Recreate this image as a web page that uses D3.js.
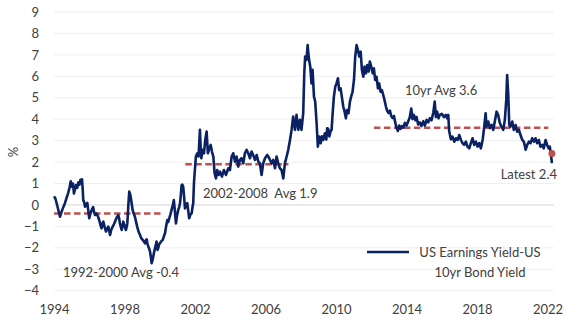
<!DOCTYPE html>
<html><head><meta charset="utf-8">
<script src="https://cdn.jsdelivr.net/npm/d3@7"></script>
<style>html,body{margin:0;padding:0;background:#fff;}svg{display:block;font-family:Lato,"Open Sans",sans-serif;}</style>
</head><body><div id="chart"></div>
<script>
// Series: US Earnings Yield - US 10yr Bond Yield (%), by decimal year
const years = [1994.00,1994.08,1994.15,1994.25,1994.34,1994.42,1994.50,1994.62,1994.70,1994.80,1994.88,1994.95,1995.02,1995.08,1995.13,1995.20,1995.25,1995.32,1995.38,1995.45,1995.50,1995.55,1995.59,1995.63,1995.66,1995.72,1995.76,1995.83,1995.89,1995.95,1996.00,1996.07,1996.14,1996.22,1996.28,1996.33,1996.42,1996.50,1996.58,1996.64,1996.70,1996.76,1996.80,1996.88,1996.95,1997.02,1997.08,1997.13,1997.18,1997.25,1997.33,1997.40,1997.46,1997.55,1997.65,1997.70,1997.74,1997.80,1997.84,1997.90,1997.93,1998.00,1998.08,1998.13,1998.16,1998.22,1998.27,1998.32,1998.35,1998.42,1998.46,1998.52,1998.59,1998.66,1998.72,1998.80,1998.88,1998.95,1999.03,1999.10,1999.16,1999.22,1999.26,1999.30,1999.35,1999.40,1999.45,1999.50,1999.54,1999.58,1999.63,1999.68,1999.73,1999.78,1999.82,1999.87,1999.92,1999.96,2000.01,2000.08,2000.17,2000.24,2000.30,2000.36,2000.43,2000.48,2000.54,2000.60,2000.67,2000.74,2000.80,2000.86,2000.92,2000.98,2001.05,2001.10,2001.15,2001.20,2001.24,2001.28,2001.33,2001.38,2001.43,2001.50,2001.56,2001.62,2001.67,2001.74,2001.81,2001.86,2001.90,2001.94,2002.00,2002.05,2002.13,2002.20,2002.28,2002.32,2002.36,2002.43,2002.51,2002.58,2002.66,2002.73,2002.81,2002.89,2002.96,2003.04,2003.11,2003.19,2003.26,2003.34,2003.42,2003.53,2003.64,2003.76,2003.89,2003.98,2004.08,2004.17,2004.27,2004.36,2004.45,2004.55,2004.64,2004.74,2004.83,2004.93,2005.02,2005.12,2005.21,2005.30,2005.40,2005.50,2005.59,2005.68,2005.78,2005.87,2005.97,2006.10,2006.21,2006.35,2006.44,2006.54,2006.63,2006.72,2006.82,2006.91,2007.01,2007.10,2007.20,2007.29,2007.39,2007.48,2007.57,2007.67,2007.76,2007.86,2007.95,2008.04,2008.14,2008.20,2008.25,2008.33,2008.39,2008.46,2008.54,2008.61,2008.67,2008.75,2008.82,2008.90,2008.97,2009.05,2009.13,2009.20,2009.28,2009.37,2009.45,2009.50,2009.56,2009.62,2009.70,2009.75,2009.81,2009.88,2009.96,2010.03,2010.11,2010.18,2010.26,2010.33,2010.41,2010.49,2010.56,2010.63,2010.71,2010.79,2010.86,2010.94,2011.02,2011.09,2011.17,2011.24,2011.32,2011.40,2011.47,2011.55,2011.62,2011.70,2011.77,2011.85,2011.92,2012.00,2012.08,2012.15,2012.22,2012.30,2012.38,2012.45,2012.53,2012.60,2012.68,2012.75,2012.83,2012.90,2012.98,2013.06,2013.13,2013.21,2013.29,2013.36,2013.44,2013.51,2013.59,2013.66,2013.74,2013.81,2013.91,2014.00,2014.10,2014.19,2014.27,2014.34,2014.42,2014.50,2014.57,2014.66,2014.76,2014.85,2014.95,2015.04,2015.14,2015.23,2015.33,2015.42,2015.52,2015.60,2015.67,2015.74,2015.82,2015.89,2016.00,2016.12,2016.23,2016.31,2016.37,2016.42,2016.52,2016.61,2016.71,2016.80,2016.90,2016.99,2017.09,2017.18,2017.27,2017.37,2017.46,2017.56,2017.65,2017.75,2017.84,2017.94,2018.03,2018.13,2018.22,2018.32,2018.41,2018.49,2018.54,2018.64,2018.73,2018.83,2018.92,2019.01,2019.11,2019.20,2019.30,2019.39,2019.49,2019.58,2019.66,2019.71,2019.77,2019.83,2019.90,2020.00,2020.09,2020.19,2020.28,2020.38,2020.47,2020.57,2020.66,2020.76,2020.85,2020.94,2021.04,2021.13,2021.23,2021.32,2021.41,2021.51,2021.60,2021.70,2021.79,2021.89,2021.98,2022.06,2022.13,2022.19,2022.25];
const spread = [0.40,0.30,0.08,-0.25,-0.55,-0.35,-0.16,0.08,0.30,0.54,0.80,1.10,0.85,1.00,0.54,0.75,0.93,0.80,1.05,0.95,1.17,1.05,1.20,0.70,0.23,0.10,-0.08,0.00,0.10,-0.30,-0.62,-0.40,-0.23,-0.10,-0.35,-0.47,-0.40,-0.55,-0.75,-0.95,-1.09,-0.85,-0.78,-1.05,-1.24,-1.10,-1.01,-1.20,-1.40,-1.15,-1.01,-0.90,-0.78,-0.60,-0.47,-0.65,-0.86,-1.05,-1.17,-0.95,-0.78,-0.95,-1.17,-1.00,-0.86,0.00,0.62,0.50,0.39,0.00,-0.23,-0.40,-0.55,-0.80,-1.01,-1.25,-1.40,-1.55,-1.63,-1.70,-1.79,-1.65,-1.60,-1.80,-1.94,-2.05,-2.18,-2.45,-2.72,-2.60,-2.41,-2.20,-2.02,-1.85,-1.71,-2.10,-2.00,-1.85,-1.79,-1.70,-1.63,-1.45,-1.32,-1.00,-0.70,-0.80,-0.62,-0.45,-0.23,0.00,0.23,-0.30,-0.86,-0.50,-0.23,-0.10,0.08,0.50,0.93,0.95,0.85,0.40,-0.16,0.00,0.08,-0.30,-0.62,-0.45,-0.39,-0.10,0.08,1.02,1.70,2.26,2.41,2.26,3.50,2.70,2.18,2.57,2.41,3.03,3.42,2.41,2.64,2.80,2.49,2.26,1.48,1.24,1.63,1.40,1.55,1.32,1.63,1.40,1.71,1.63,2.26,2.41,2.02,2.26,1.79,2.10,2.18,1.94,2.41,2.57,2.41,2.18,2.49,2.33,2.10,2.33,2.02,1.94,1.40,1.94,2.18,2.33,2.18,1.94,2.10,1.71,2.26,1.94,1.71,1.63,1.24,1.94,2.26,2.57,3.03,3.50,4.12,3.50,4.20,3.50,3.97,3.50,4.28,6.14,6.92,6.77,7.46,6.84,6.45,5.67,6.30,5.05,4.82,3.81,2.72,3.19,2.88,3.20,3.03,3.34,3.05,3.58,3.55,3.20,3.45,3.50,4.28,5.05,5.52,5.67,5.91,5.36,5.44,5.05,4.59,4.35,4.04,4.43,4.28,4.82,5.05,5.28,5.83,6.92,7.46,7.23,6.92,7.15,6.30,5.98,6.45,6.14,6.53,6.22,6.69,6.45,6.14,6.37,5.83,5.98,5.44,5.67,5.28,5.36,5.13,4.90,4.60,4.40,4.29,4.40,4.15,4.06,4.15,3.85,3.59,3.45,3.70,3.55,3.68,3.60,3.83,3.70,3.90,4.10,4.50,4.00,4.20,3.95,4.10,3.75,3.85,3.68,3.90,3.70,3.97,3.85,4.05,3.95,4.30,4.82,4.10,4.35,4.04,4.20,4.25,4.10,4.20,4.04,4.20,3.45,3.06,3.19,2.95,3.11,3.03,3.26,3.03,2.88,2.80,2.95,2.72,2.64,2.88,3.11,2.80,2.95,2.72,2.88,2.64,3.03,3.65,4.28,3.65,3.89,3.58,3.73,3.50,3.89,4.35,4.20,3.81,3.65,3.50,3.97,4.90,6.06,5.21,3.73,3.65,3.89,3.50,3.73,3.42,3.50,3.26,3.03,2.95,2.57,2.80,2.95,2.88,3.11,2.95,3.11,2.88,3.03,2.72,2.80,2.64,3.03,2.80,2.64,2.72,2.40,1.95];

// Period averages
const avgLabels = ["1992-2000 Avg -0.4", "2002-2008  Avg 1.9", "10yr Avg 3.6"];
const avgStart  = [1994.0, 2001.45, 2012.15];
const avgEnd    = [2000.2, 2007.3, 2022.05];
const avgValue  = [-0.4, 1.9, 3.6];

// Latest point
const latestYear = 2022.25, latestValue = 2.4, latestLabel = "Latest 2.4";

const yTicks = [9,8,7,6,5,4,3,2,1,0,-1,-2,-3,-4];
const xTicks = [1994,1998,2002,2006,2010,2014,2018,2022];
const seriesName = ["US Earnings Yield-US", "10yr Bond Yield"];

const W = 588, H = 333;
const svg = d3.select("#chart").append("svg").attr("width", W).attr("height", H);

const x = d3.scaleLinear().domain([1994, 2022]).range([54, 547.5]);
const y = d3.scaleLinear().domain([-4, 9]).range([290.7, 12]);
const gridRight = x(2022.37);
const txt = "#404040";

// gridlines
svg.append("g").selectAll("line").data(yTicks).join("line")
  .attr("x1", x(1994)).attr("x2", gridRight)
  .attr("y1", d => y(d)).attr("y2", d => y(d))
  .attr("stroke", d => d === 0 ? "#d4d4d4" : "#efefef").attr("stroke-width", 1);

// y axis labels
const yAxis = d3.axisLeft(y).tickValues(yTicks).tickSize(0).tickPadding(0).tickFormat(d3.format("d"));
svg.append("g").attr("transform", "translate(39,0)").call(yAxis)
  .call(g => g.select(".domain").remove())
  .selectAll("text").attr("fill", txt).attr("font-size", 13).attr("font-family", "Lato, sans-serif");

// x axis labels
const xAxis = d3.axisBottom(x).tickValues(xTicks).tickSize(0).tickPadding(0).tickFormat(d3.format("d"));
svg.append("g").attr("transform", "translate(0,305)").call(xAxis)
  .call(g => g.select(".domain").remove())
  .selectAll("text").attr("fill", txt).attr("font-size", 13).attr("font-family", "Lato, sans-serif");

// % title
svg.append("text").attr("transform", "translate(18,152) rotate(-90)")
  .attr("text-anchor", "middle").attr("fill", txt).attr("font-size", 13).text("%");

// average dashed lines
svg.append("g").selectAll("line").data(avgValue).join("line")
  .attr("x1", (d,i) => x(avgStart[i])).attr("x2", (d,i) => x(avgEnd[i]))
  .attr("y1", d => y(d)).attr("y2", d => y(d))
  .attr("stroke", "#c0504d").attr("stroke-width", 2.5).attr("stroke-dasharray", "6.5,3.5");

// series line
const pts = years.map((yr, i) => [yr, spread[i]]);
svg.append("path").datum(pts)
  .attr("fill", "none").attr("stroke", "#0a2163").attr("stroke-width", 2.6).attr("stroke-linejoin", "round")
  .attr("d", d3.line().x(d => x(d[0])).y(d => y(d[1])));

// latest dot
svg.append("circle").attr("cx", x(latestYear)).attr("cy", y(latestValue)).attr("r", 3.5).attr("fill", "#c0504d");

// annotations
const ann = [
  {t: avgLabels[0], x: 63, y: 272, a: "start"},
  {t: avgLabels[1], x: 203, y: 193, a: "start"},
  {t: avgLabels[2], x: 405, y: 90, a: "start"},
  {t: latestLabel, x: 557, y: 174, a: "end"}
];
svg.append("g").selectAll("text").data(ann).join("text")
  .attr("x", d => d.x).attr("y", d => d.y).attr("dy", "0.35em")
  .attr("text-anchor", d => d.a).attr("fill", txt).attr("font-size", 13)
  .style("white-space", "pre").text(d => d.t);

// legend
svg.append("line").attr("x1", 367).attr("x2", 409).attr("y1", 252).attr("y2", 252)
  .attr("stroke", "#0a2163").attr("stroke-width", 2.4);
svg.append("g").selectAll("text").data(seriesName).join("text")
  .attr("x", 480).attr("y", (d,i) => 252 + i*20).attr("dy", "0.35em")
  .attr("text-anchor", "middle").attr("fill", txt).attr("font-size", 13).text(d => d);
</script></body></html>
